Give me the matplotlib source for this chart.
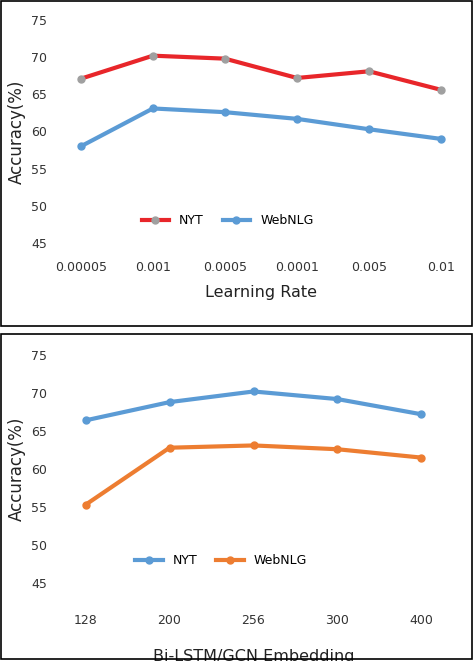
import matplotlib.pyplot as plt
from matplotlib.patches import Rectangle

lr_labels = ["0.00005", "0.001", "0.0005", "0.0001", "0.005", "0.01"]
lr_nyt = [67.1, 70.2, 69.8, 67.2, 68.1, 65.6]
lr_web = [58.0, 63.1, 62.6, 61.7, 60.3, 59.0]

emb_labels = ["128", "200", "256", "300", "400"]
emb_nyt = [66.4, 68.8, 70.2, 69.2, 67.2]
emb_web = [55.3, 62.8, 63.1, 62.6, 61.5]

W, H = 474, 661
fig = plt.figure(figsize=(W/100, H/100), dpi=100)
plt.rcParams['font.family'] = ['DejaVu Sans']

def box(x0, y0, x1, y1):
    fig.patches.append(Rectangle((x0/W, 1-y1/H), (x1-x0)/W, (y1-y0)/H,
                                 transform=fig.transFigure, fill=False, lw=1.2, ec='black'))

box(1, 1, 472, 326)
box(1, 334, 472, 659)

def panel(top, bottom, left, right, labels, s1, s2, c1, c2, xlabel, pad, lpad):
    ax = fig.add_axes([left/W, 1-bottom/H, (right-left)/W, (bottom-top)/H])
    x = range(len(labels))
    m1 = '#a0a0a0' if c1 == '#e8262a' else c1
    ax.plot(x, s1, color=c1, lw=3, marker='o', ms=5, mfc=m1, mec=m1, label='NYT')
    ax.plot(x, s2, color=c2, lw=3, marker='o', ms=5, mfc=c2, mec=c2, label='WebNLG')
    ax.set_ylim(45, 75)
    ax.set_yticks(range(45, 80, 5))
    ax.set_xticks(list(x))
    ax.set_xticklabels(labels)
    ax.set_xlim(-0.4, len(labels)-0.6)
    for s in ax.spines.values():
        s.set_visible(False)
    ax.tick_params(length=0, labelsize=9, colors='#333333')
    ax.tick_params(axis='x', pad=pad)
    ax.set_ylabel('Accuracy(%)', fontsize=12, color='#222222')
    ax.set_xlabel(xlabel, fontsize=11.5, color='#222222', labelpad=lpad)
    ax.legend(loc='lower center', bbox_to_anchor=(0.42, 0.02), ncol=2, frameon=False,
              fontsize=9, handlelength=2.2, columnspacing=1.5)
    return ax

panel(20, 243, 52, 470, lr_labels, lr_nyt, lr_web, '#e8262a', '#5b9bd5', 'Learning Rate', 13, 8)
panel(355, 583, 52, 455, emb_labels, emb_nyt, emb_web, '#5b9bd5', '#ed7d31', 'Bi-LSTM/GCN Embedding', 22, 16)

fig.savefig('out.png', dpi=100)
